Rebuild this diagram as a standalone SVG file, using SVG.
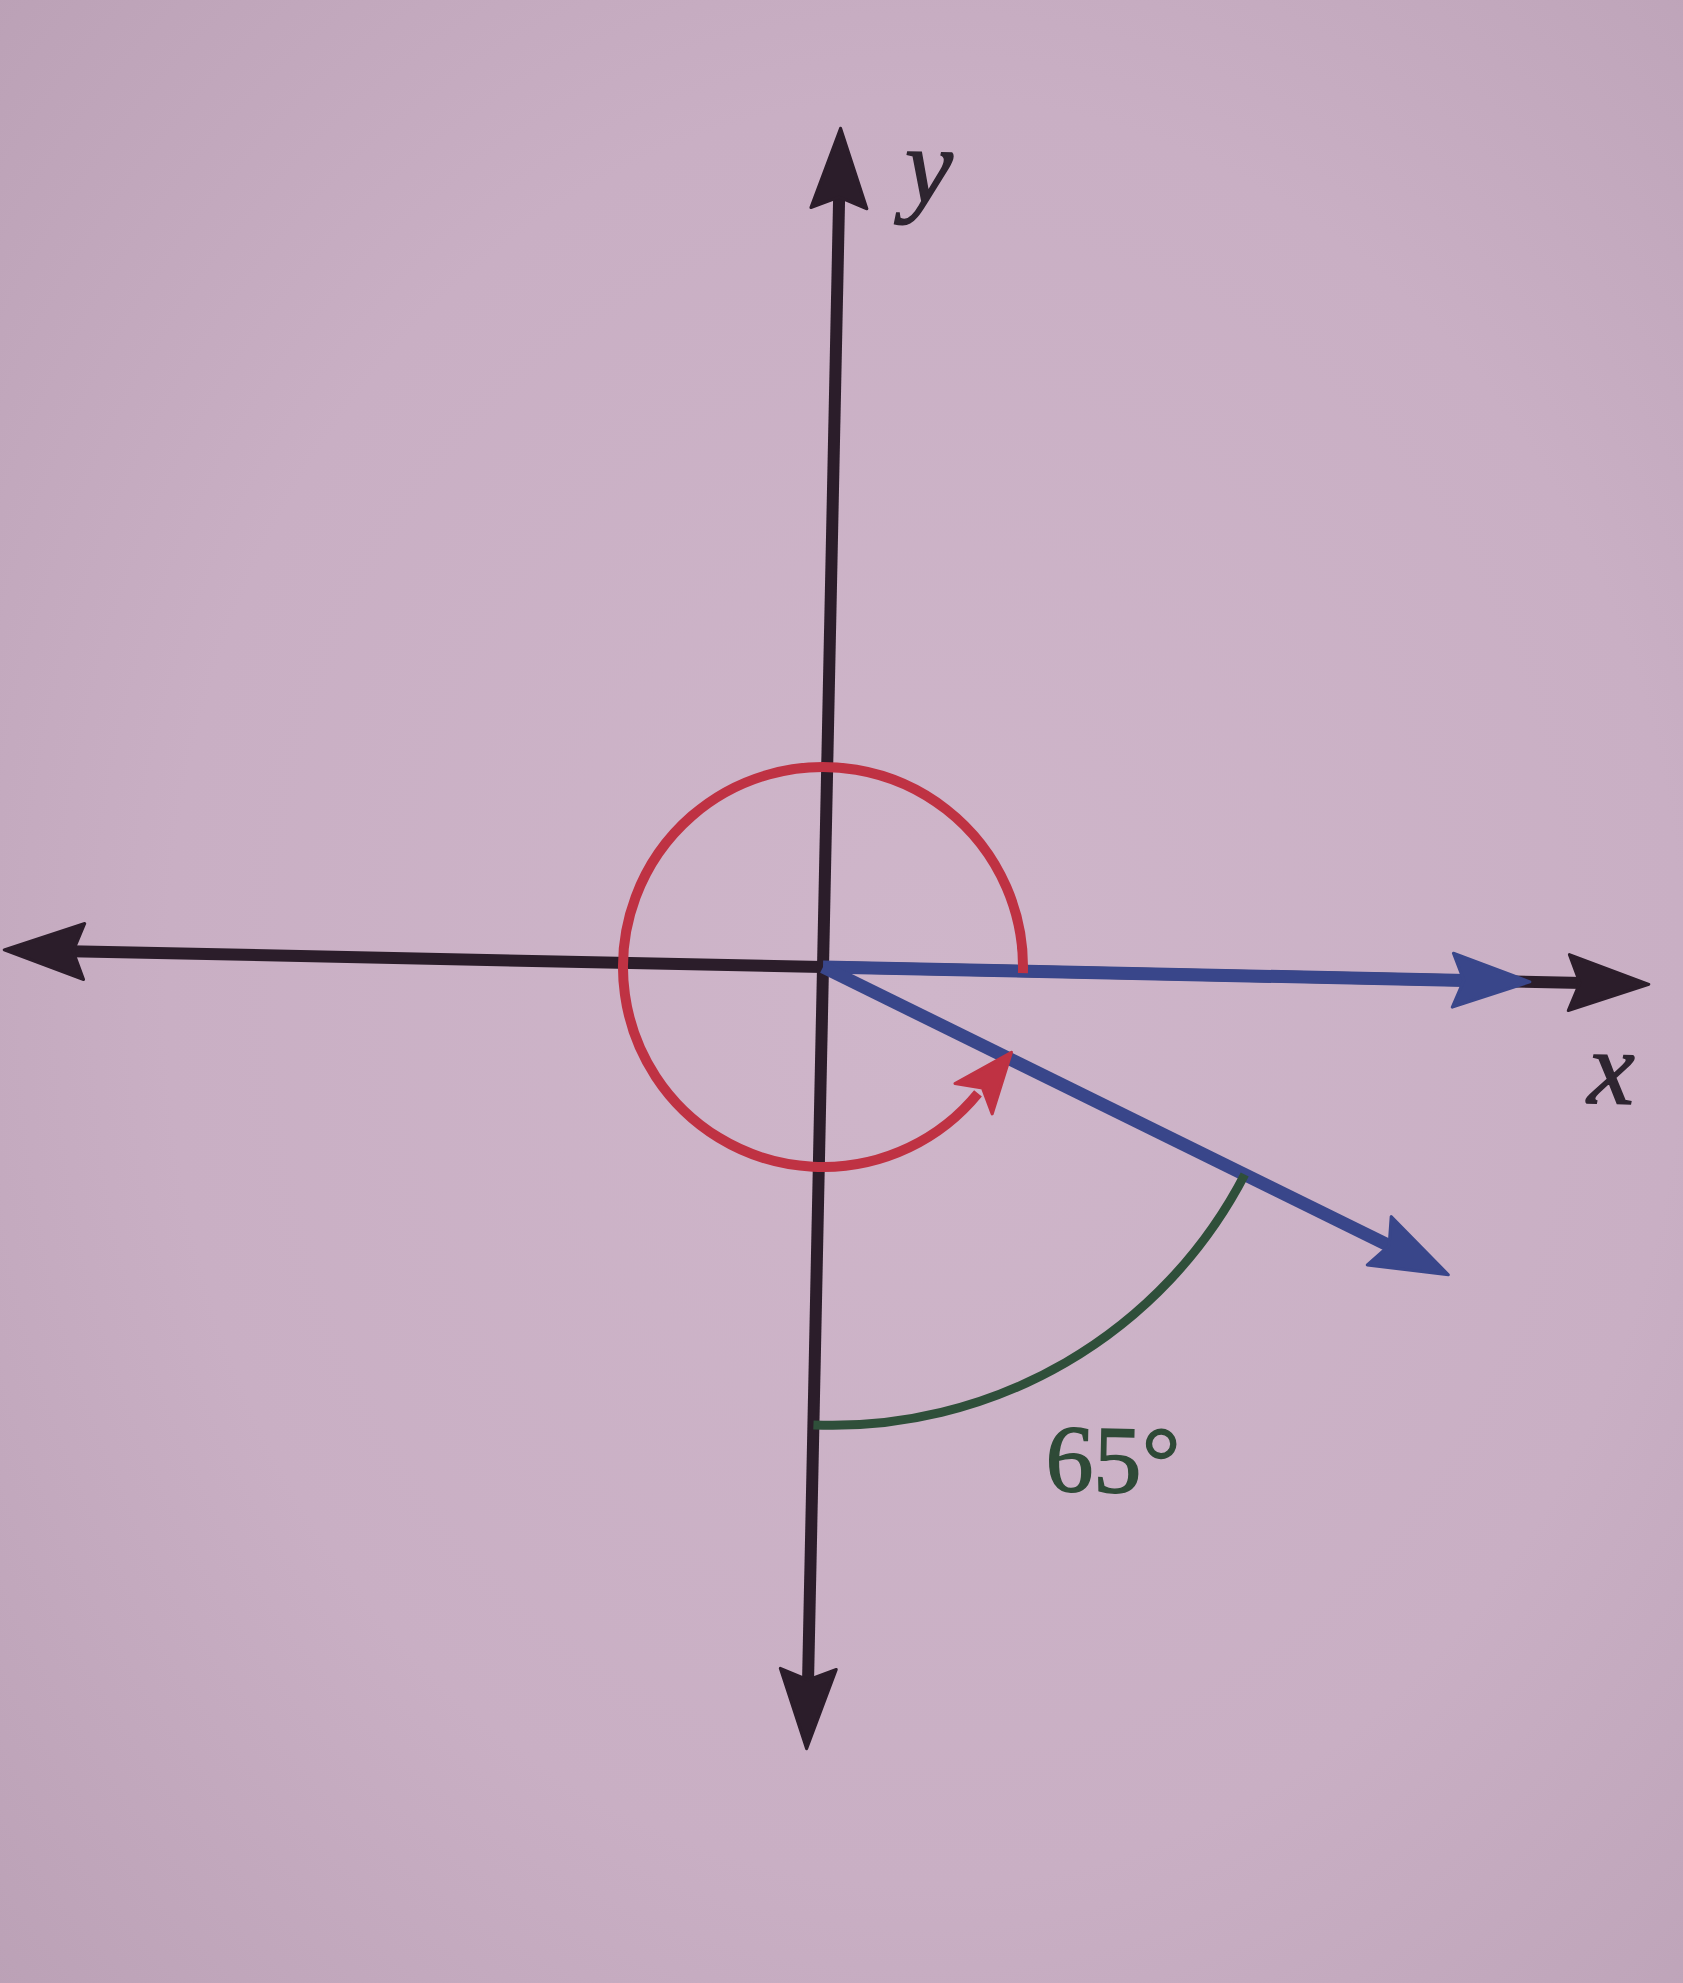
<svg xmlns="http://www.w3.org/2000/svg" width="1683" height="1983" viewBox="0 0 1683 1983">
  <defs>
    <radialGradient id="bg" cx="0.55" cy="0.5" r="0.75">
      <stop offset="0" stop-color="#cfb6ca"/>
      <stop offset="0.6" stop-color="#c9afc4"/>
      <stop offset="1" stop-color="#bba1b6"/>
    </radialGradient>
    <marker id="ahBlack" viewBox="-45 -32 90 64" refX="0" refY="0" markerWidth="90" markerHeight="64" markerUnits="userSpaceOnUse" orient="auto-start-reverse">
      <path d="M42,0 L-38,-28 L-27,0 L-38,28 Z" fill="#2b1d2a" stroke="#2b1d2a" stroke-width="3" stroke-linejoin="round"/>
    </marker>
    <marker id="ahBlue" viewBox="-45 -32 90 64" refX="0" refY="0" markerWidth="90" markerHeight="64" markerUnits="userSpaceOnUse" orient="auto">
      <path d="M40,0 L-37,-27 L-26,0 L-37,27 Z" fill="#39468a" stroke="#39468a" stroke-width="3" stroke-linejoin="round"/>
    </marker>
    <marker id="ahRed" viewBox="-12 -28 72 56" refX="0" refY="0" markerWidth="72" markerHeight="56" markerUnits="userSpaceOnUse" orient="auto">
      <path d="M53,0 L-7,-24 L7,0 L-7,24 Z" fill="#bf3243" stroke="#bf3243" stroke-width="3" stroke-linejoin="round"/>
    </marker>
    <style>
      .axis { stroke: #2b1d2a; stroke-width: 12; fill: none; }
      .ray { stroke: #39468a; stroke-width: 13; fill: none; }
      .turn { stroke: #bf3243; stroke-width: 10; fill: none; }
      .angle { stroke: #2f4f3a; stroke-width: 9; fill: none; }
      .lbl { font-family: "Liberation Serif", "Times New Roman", serif; fill: #2e2530; stroke: #2e2530; stroke-width: 1.5; }
      .it { font-style: italic; }
      .deg { fill: #2f4a37; stroke: #2f4a37; }
    </style>
  </defs>
  <rect x="0" y="0" width="1683" height="1983" fill="url(#bg)"/>
  <g transform="rotate(1.2 823 967)">
    <g id="connectors">
      <line id="x-axis" class="axis" x1="46" y1="967" x2="1607" y2="967" marker-start="url(#ahBlack)" marker-end="url(#ahBlack)"/>
      <line id="y-axis" class="axis" x1="823" y1="170" x2="823" y2="1707" marker-start="url(#ahBlack)" marker-end="url(#ahBlack)"/>
      <line id="ray-initial" class="ray" x1="823" y1="967" x2="1490" y2="967" marker-end="url(#ahBlue)"/>
      <line id="ray-terminal" class="ray" x1="823" y1="967" x2="1418.4" y2="1244.7" marker-end="url(#ahBlue)"/>
      <path id="rotation-arc" class="turn" d="M1023,969 A200,200 0 1 0 980.6,1090.1" marker-end="url(#ahRed)"/>
      <path id="angle-arc" class="angle" d="M823,1425 A464,464 0 0 0 1249,1165.6"/>
    </g>
    <g id="label-y">
      <text class="lbl it" x="888" y="200" font-size="108">y</text>
    </g>
    <g id="label-x">
      <text class="lbl it" x="1590" y="1087" font-size="105">x</text>
    </g>
    <g id="label-65">
      <text class="lbl deg" x="1056" y="1486" font-size="96">65°</text>
    </g>
  </g>
</svg>
